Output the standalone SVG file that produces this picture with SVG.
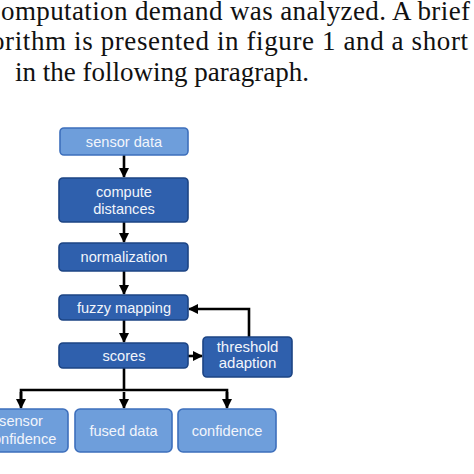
<svg xmlns="http://www.w3.org/2000/svg" width="474" height="474" viewBox="0 0 474 474">
<defs>
<style>
.para{font-family:"Liberation Serif","Times New Roman",serif;font-size:27px;fill:#111}
.lbl{font-family:"Liberation Sans",Arial,sans-serif;font-size:14.6px;fill:#f2f5fb;text-anchor:middle}
.light{fill:#6e9edb;stroke:#3d6fbc;stroke-width:1.6}
.dark{fill:#2f60ad;stroke:#1c4484;stroke-width:1.6}
.conn{fill:none;stroke:#000;stroke-width:2.6}
</style>
<marker id="ah" markerWidth="11" markerHeight="11" refX="9" refY="5.5" orient="auto" markerUnits="userSpaceOnUse">
<path d="M0,0.5 L10,5.5 L0,10.5 z" fill="#000"/>
</marker>
</defs>
<rect width="474" height="474" fill="#fff"/>
<g id="paragraph">
<text class="para" x="1" y="20" textLength="469" lengthAdjust="spacing">omputation demand was analyzed. A brief</text>
<text class="para" x="-9" y="50" textLength="477" lengthAdjust="spacing">orithm is presented in figure 1 and a short</text>
<text class="para" x="15" y="81">in the following paragraph.</text>
</g>
<g id="connectors">
<line class="conn" x1="124" y1="155" x2="124" y2="177" marker-end="url(#ah)"/>
<line class="conn" x1="124" y1="222" x2="124" y2="242" marker-end="url(#ah)"/>
<line class="conn" x1="124" y1="271" x2="124" y2="294" marker-end="url(#ah)"/>
<line class="conn" x1="124" y1="320" x2="124" y2="342" marker-end="url(#ah)"/>
<line class="conn" x1="188" y1="356" x2="202" y2="356" marker-end="url(#ah)"/>
<polyline class="conn" points="249,337 249,309 189,309" marker-end="url(#ah)"/>
<polyline class="conn" points="124,368 124,390" />
<polyline class="conn" points="21,400 21,390 227,390 227,400" />
<line class="conn" x1="21" y1="392" x2="21" y2="408" marker-end="url(#ah)"/>
<line class="conn" x1="124" y1="392" x2="124" y2="408" marker-end="url(#ah)"/>
<line class="conn" x1="227" y1="392" x2="227" y2="408" marker-end="url(#ah)"/>
</g>
<g id="sensor-data">
<rect class="light" x="60" y="128" width="128" height="27" rx="4"/>
<text class="lbl" x="124" y="146.5">sensor data</text>
</g>
<g id="compute-distances">
<rect class="dark" x="59" y="178" width="129" height="44" rx="4"/>
<text class="lbl" x="124" y="196.5">compute</text>
<text class="lbl" x="124" y="213.5">distances</text>
</g>
<g id="normalization">
<rect class="dark" x="59" y="243" width="129" height="28" rx="4"/>
<text class="lbl" x="124" y="262">normalization</text>
</g>
<g id="fuzzy-mapping">
<rect class="dark" x="59" y="295" width="129" height="25" rx="4"/>
<text class="lbl" x="124" y="312.5">fuzzy mapping</text>
</g>
<g id="scores">
<rect class="dark" x="59" y="343" width="129" height="25" rx="4"/>
<text class="lbl" x="124" y="360.5">scores</text>
</g>
<g id="threshold-adaption">
<rect class="dark" x="203" y="337" width="89" height="40" rx="4"/>
<text class="lbl" x="247.5" y="352" style="font-size:15px">threshold</text>
<text class="lbl" x="247.5" y="368" style="font-size:15px">adaption</text>
</g>
<g id="sensor-confidence">
<rect class="light" x="-26" y="409" width="94" height="43" rx="5"/>
<text class="lbl" x="21" y="426">sensor</text>
<text class="lbl" x="21" y="444">confidence</text>
</g>
<g id="fused-data">
<rect class="light" x="75" y="409" width="97" height="43" rx="5"/>
<text class="lbl" x="123.5" y="435.5">fused data</text>
</g>
<g id="confidence">
<rect class="light" x="178" y="409" width="98" height="43" rx="5"/>
<text class="lbl" x="227" y="435.5">confidence</text>
</g>
</svg>
